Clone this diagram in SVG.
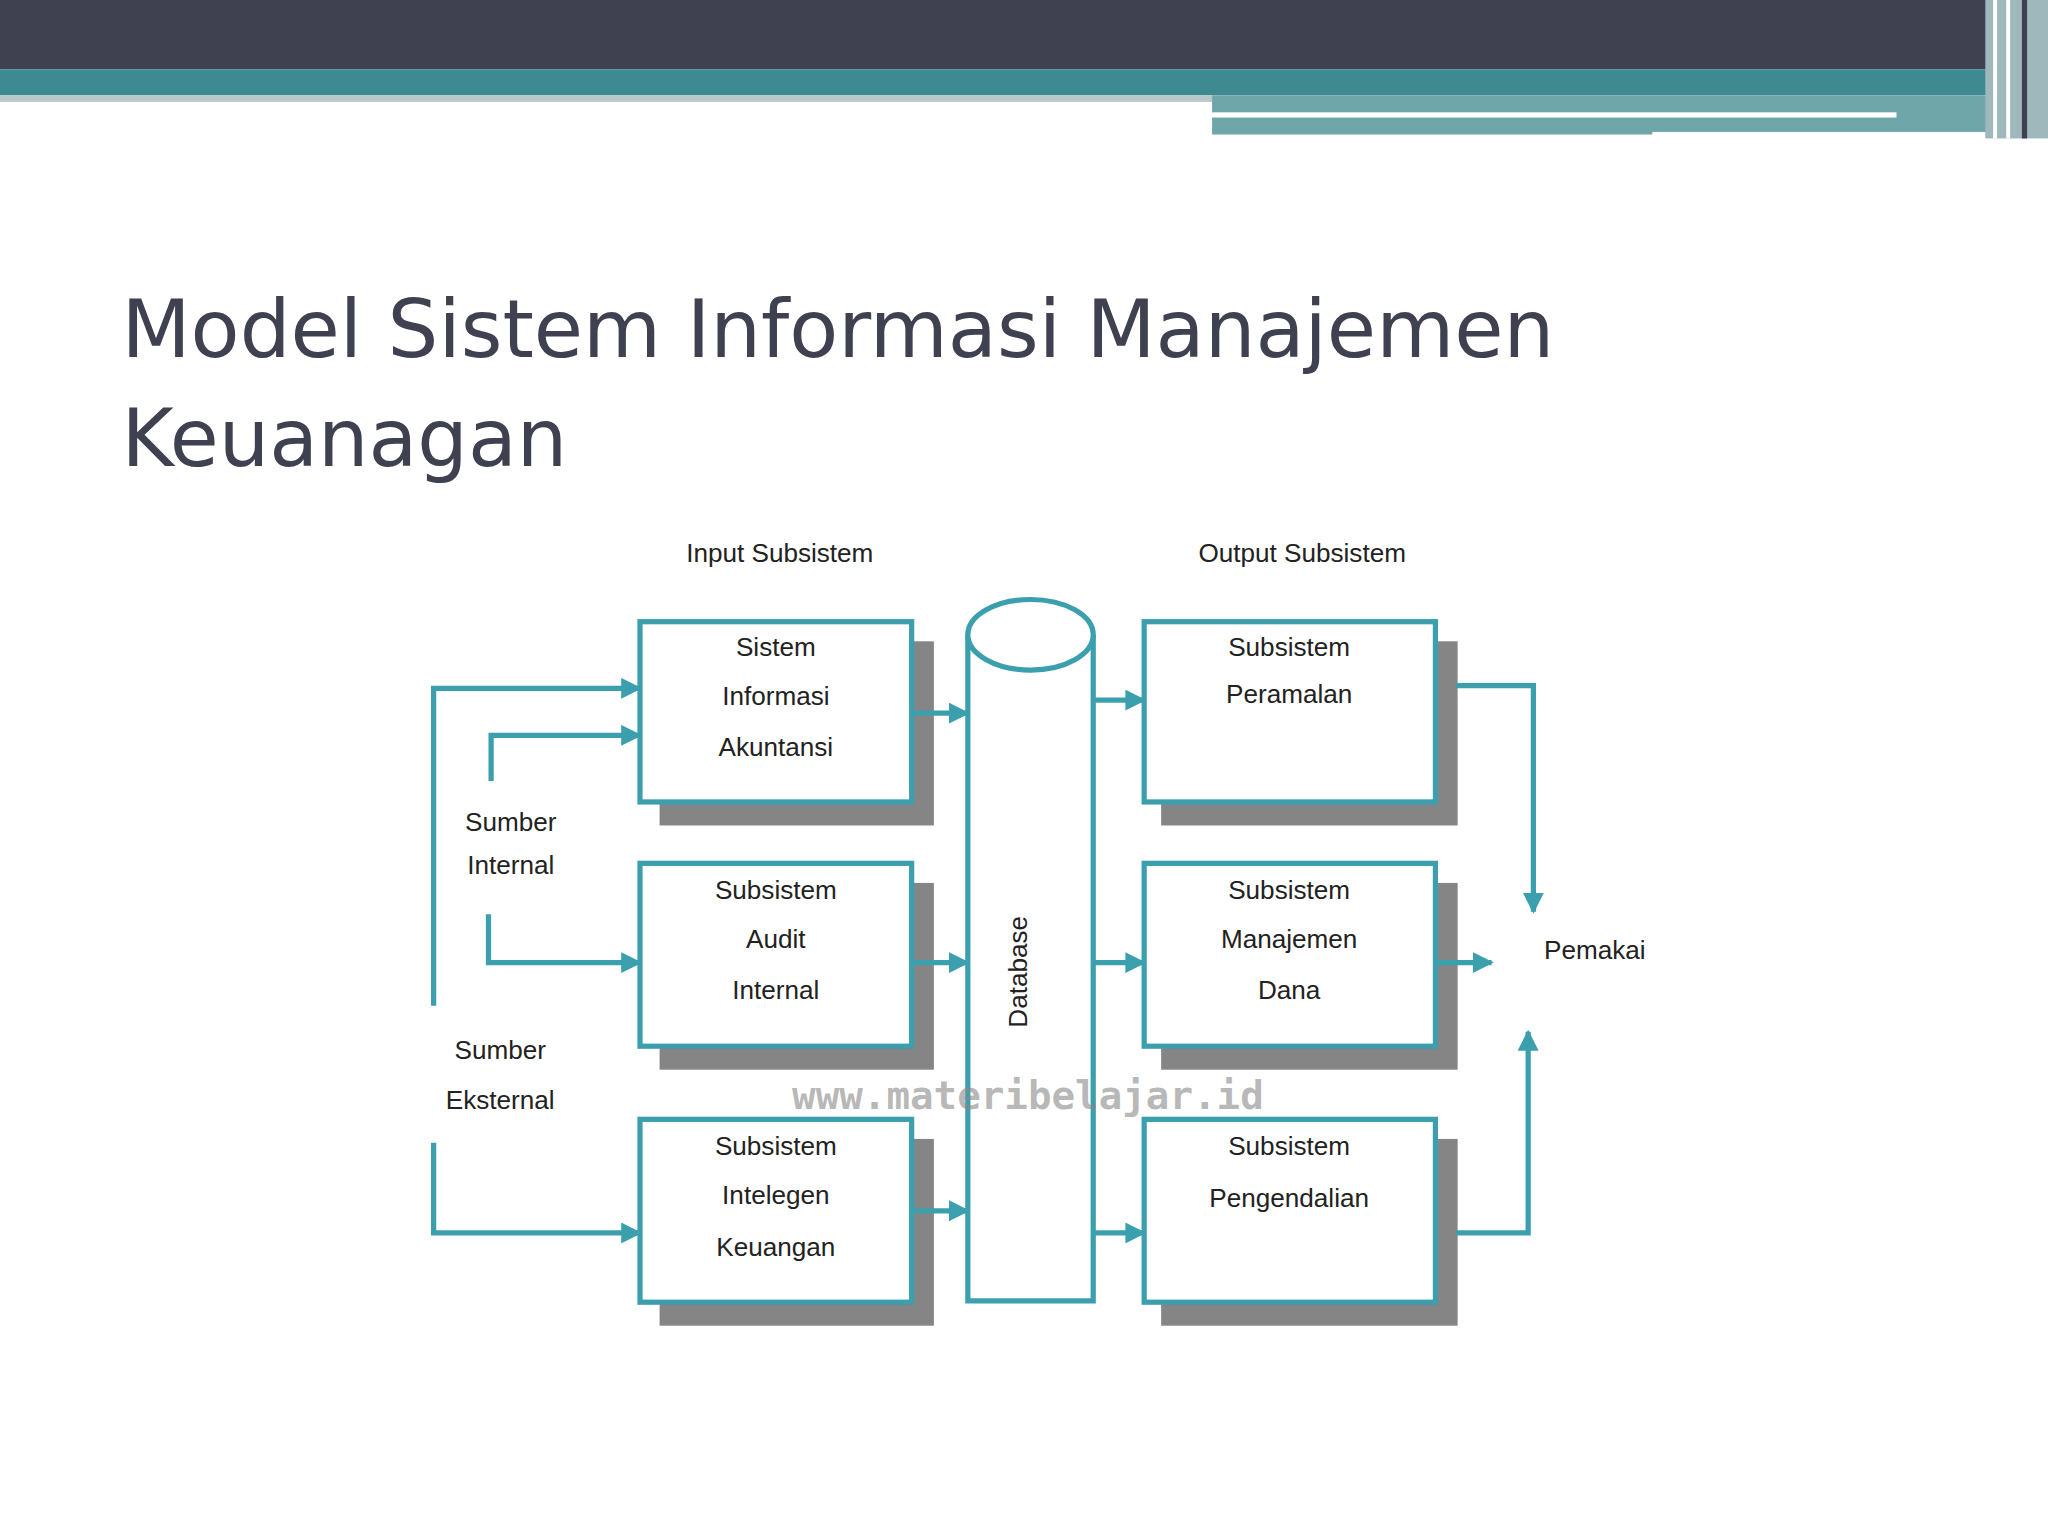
<svg xmlns="http://www.w3.org/2000/svg" width="2048" height="1536" viewBox="0 0 2048 1536">
<defs>
<style>
.bx{fill:#fff;stroke:#3b9fae;stroke-width:4}
.sh{fill:#858585}
.ln{fill:none;stroke:#3b9fae;stroke-width:4;marker-end:url(#ah)}
.t{font-family:"Liberation Sans",Arial,sans-serif;font-size:20px;fill:#222;text-anchor:middle}
</style>
<marker id="ah" viewBox="0 0 10 10" refX="9" refY="5" markerWidth="4" markerHeight="4" orient="auto" markerUnits="strokeWidth"><path d="M0,0L10,5L0,10z" fill="#3b9fae"/></marker>
</defs>
<rect width="2048" height="1536" fill="#fff"/>
<g transform="scale(1.30612)">
<rect x="0" y="0" width="1568" height="53" fill="#3f4150"/>
<rect x="0" y="53" width="1568" height="20" fill="#3e8a90"/>
<rect x="0" y="73" width="928" height="5" fill="#b8c8ca"/>
<rect x="928" y="73" width="612" height="30" fill="#6ea6aa"/>
<rect x="928" y="86" width="524" height="4" fill="#fff"/>
<rect x="1265" y="101" width="275" height="5" fill="#fff"/>
<rect x="1520" y="0" width="48" height="106" fill="#9fb8bb"/>
<rect x="1526" y="0" width="3" height="106" fill="#fff"/>
<rect x="1536" y="0" width="3" height="106" fill="#fff"/>
<rect x="1548" y="0" width="4" height="106" fill="#3f4150"/>
<text x="93" y="273" font-family="DejaVu Sans,sans-serif" font-size="61" fill="#3f4150" textLength="1097" lengthAdjust="spacingAndGlyphs">Model Sistem Informasi Manajemen</text>
<text x="93" y="357" font-family="DejaVu Sans,sans-serif" font-size="61" fill="#3f4150">Keuanagan</text>
<text class="t" x="597" y="430">Input Subsistem</text>
<text class="t" x="997" y="430">Output Subsistem</text>
<g id="n1"><rect class="sh" x="505" y="491" width="210" height="141"/><rect class="bx" x="490" y="476" width="208" height="138"/><text class="t" x="594" y="502">Sistem</text><text class="t" x="594" y="540">Informasi</text><text class="t" x="594" y="579">Akuntansi</text></g>
<g id="n2"><rect class="sh" x="505" y="676" width="210" height="143"/><rect class="bx" x="490" y="661" width="208" height="140"/><text class="t" x="594" y="688">Subsistem</text><text class="t" x="594" y="726">Audit</text><text class="t" x="594" y="765">Internal</text></g>
<g id="n3"><rect class="sh" x="505" y="872" width="210" height="143"/><rect class="bx" x="490" y="857" width="208" height="140"/><text class="t" x="594" y="884">Subsistem</text><text class="t" x="594" y="922">Intelegen</text><text class="t" x="594" y="962">Keuangan</text></g>
<g id="n4"><rect class="sh" x="889" y="491" width="227" height="141"/><rect class="bx" x="876" y="476" width="223" height="138"/><text class="t" x="987" y="502">Subsistem</text><text class="t" x="987" y="538" font-size="15">Peramalan</text></g>
<g id="n5"><rect class="sh" x="889" y="676" width="227" height="143"/><rect class="bx" x="876" y="661" width="223" height="140"/><text class="t" x="987" y="688">Subsistem</text><text class="t" x="987" y="726">Manajemen</text><text class="t" x="987" y="765">Dana</text></g>
<g id="n6"><rect class="sh" x="889" y="872" width="227" height="143"/><rect class="bx" x="876" y="857" width="223" height="140"/><text class="t" x="987" y="884">Subsistem</text><text class="t" x="987" y="924">Pengendalian</text></g>
<g id="db"><path class="bx" d="M741,486V996H837V486"/><ellipse class="bx" cx="789" cy="486" rx="48" ry="27"/><text class="t" transform="translate(786,744) rotate(-90)">Database</text></g>
<g id="labels">
<text class="t" x="391" y="636" font-size="16">Sumber</text><text class="t" x="391" y="669" font-size="16">Internal</text>
<text class="t" x="383" y="811">Sumber</text><text class="t" x="383" y="849">Eksternal</text>
<text class="t" x="1221" y="734">Pemakai</text>
<text x="787" y="849" font-family="DejaVu Sans Mono,monospace" font-weight="bold" font-size="30" fill="#888" fill-opacity="0.6" text-anchor="middle">www.materibelajar.id</text>
</g>
<g id="connectors">
<path class="ln" d="M332,770V527H490"/>
<path class="ln" d="M332,875V944H490"/>
<path class="ln" d="M376,598V563H490"/>
<path class="ln" d="M374,700V737H490"/>
<path class="ln" d="M698,546H741"/>
<path class="ln" d="M698,737H741"/>
<path class="ln" d="M698,927H741"/>
<path class="ln" d="M837,536H876"/>
<path class="ln" d="M837,737H876"/>
<path class="ln" d="M837,944H876"/>
<path class="ln" d="M1115,525H1174V698"/>
<path class="ln" d="M1099,737H1142"/>
<path class="ln" d="M1115,944H1170V790"/>
</g>
</g>
</svg>
